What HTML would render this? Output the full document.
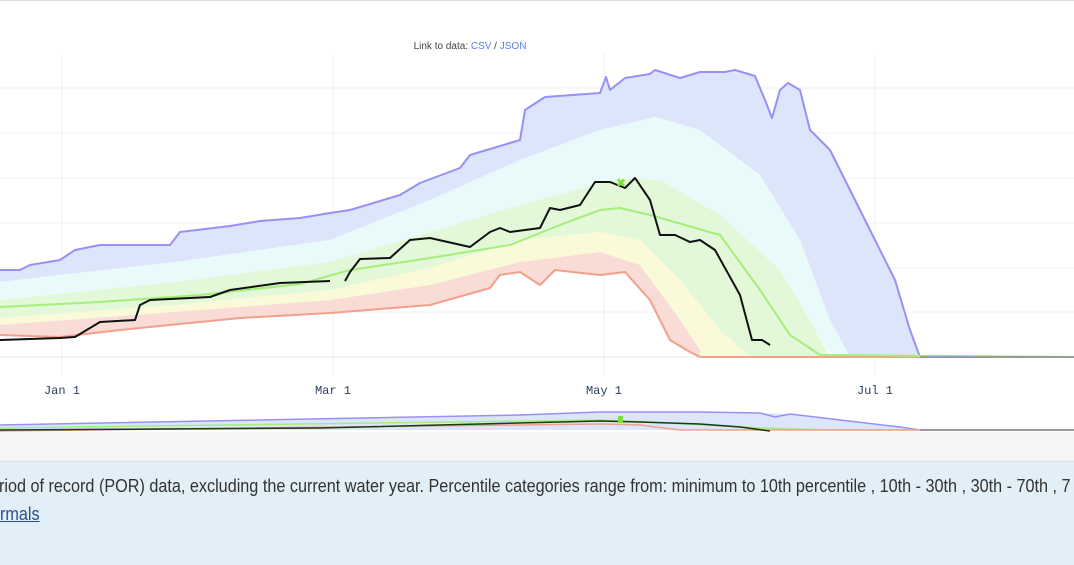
<!DOCTYPE html>
<html><head><meta charset="utf-8"><style>
body{margin:0;width:1074px;height:564px;overflow:hidden;background:#fff;font-family:"Liberation Sans",sans-serif;position:relative}
.top{position:absolute;left:0;top:0;width:1074px;height:1px;background:#ddd}
.gray{position:absolute;left:0;top:432px;width:1074px;height:29px;background:#f5f5f5}
.box{position:absolute;left:0;top:461px;width:1074px;height:103px;background:#e3eff6;border-top:1px solid #d4e3ec}
.t1{position:absolute;left:-1px;top:476px;font-size:18px;color:#333;white-space:nowrap;transform-origin:0 0;transform:scaleX(0.9)}
.t2{position:absolute;left:0;top:504px;font-size:18px;color:#2a4f8f;text-decoration:underline;transform-origin:0 0;transform:scaleX(0.9)}
</style></head><body>
<div class="top"></div>
<svg width="1074" height="432" style="position:absolute;left:0;top:0" font-family="Liberation Mono, monospace">
<g stroke="#eef0f8" stroke-width="1">
<line x1="0" y1="88" x2="1074" y2="88"/><line x1="0" y1="133" x2="1074" y2="133"/><line x1="0" y1="178" x2="1074" y2="178"/><line x1="0" y1="223" x2="1074" y2="223"/><line x1="0" y1="268" x2="1074" y2="268"/><line x1="0" y1="312" x2="1074" y2="312"/>
<line x1="62" y1="53" x2="62" y2="375"/><line x1="333" y1="53" x2="333" y2="375"/><line x1="604" y1="53" x2="604" y2="375"/><line x1="875" y1="53" x2="875" y2="375"/>
</g>
<line x1="0" y1="357" x2="1074" y2="357" stroke="#e6e8f0"/>
<text x="470" y="49" font-family="Liberation Sans,sans-serif" font-size="10" fill="#444" text-anchor="middle">Link to data: <tspan fill="#5b7de8">CSV</tspan> / <tspan fill="#5b7de8">JSON</tspan></text>
<polygon fill="#dde5fa" points="0,270 20,270 30,265 60,260 75,250 100,245 170,245 180,232 230,226 260,221 300,218 330,213 350,210 400,195 420,183 460,168 470,155 520,140 525,110 545,97 600,93 606,77 610,90 625,78 650,74 655,70 680,78 700,72 725,72 735,70 755,76 765,100 772,118 780,90 788,83 800,90 810,130 830,150 870,230 895,280 910,330 920,357 850,357 830,320 800,240 760,175 700,130 655,117 600,130 520,160 430,200 330,240 175,262 60,275 0,282"/>
<polygon fill="#e9fafa" points="0,282 60,275 175,262 330,240 430,200 520,160 600,130 655,117 700,130 760,175 800,240 830,320 850,357 830,355 810,320 780,270 720,215 660,180 620,178 520,205 430,232 330,262 175,282 0,300"/>
<polygon fill="#e2f8d8" points="0,300 175,282 330,262 430,232 520,205 620,178 660,180 720,215 780,270 810,320 830,357 750,357 720,330 680,280 640,240 600,232 520,240 430,268 330,290 175,305 0,318"/>
<polygon fill="#fafad8" points="0,318 175,305 330,290 430,268 520,240 600,232 640,240 680,280 720,330 750,357 700,357 680,320 640,265 600,252 520,262 430,285 330,300 175,312 0,325"/>
<polygon fill="#fadcd6" points="0,325 175,312 330,300 430,285 520,262 600,252 640,265 680,320 700,350 700,357 690,352 670,340 650,300 625,272 600,275 555,270 540,285 520,272 500,275 490,288 430,305 330,313 240,318 120,330 60,337 0,335"/>
<g fill="none" stroke-linejoin="round">
<polyline stroke="#9a8ff5" stroke-width="2" points="0,270 20,270 30,265 60,260 75,250 100,245 170,245 180,232 230,226 260,221 300,218 330,213 350,210 400,195 420,183 460,168 470,155 520,140 525,110 545,97 600,93 606,77 610,90 625,78 650,74 655,70 680,78 700,72 725,72 735,70 755,76 765,100 772,118 780,90 788,83 800,90 810,130 830,150 870,230 895,280 910,330 920,357 1074,357"/>
<polyline stroke="#f2a08c" stroke-width="2" points="0,335 60,337 120,330 240,318 330,313 430,305 490,288 500,275 520,272 540,285 555,270 600,275 625,272 650,300 670,340 690,352 700,357 1074,357"/>
<polyline stroke="#a5ee7a" stroke-width="2" points="0,307 100,302 200,295 300,284 350,270 430,258 510,245 560,225 600,210 620,208 650,215 720,235 760,290 790,335 820,355 1074,357"/>
<polyline stroke="#8a8aa0" stroke-width="1.5" points="920,357 1074,357"/>
<polyline stroke="#111" stroke-width="2" points="0,340 60,338 75,337 90,328 100,322 135,320 140,305 150,300 210,297 230,290 280,283 330,281"/>
<polyline stroke="#111" stroke-width="2" points="345,281 350,272 360,259 390,258 410,240 430,238 470,247 490,232 500,228 510,232 540,228 550,208 560,210 580,205 595,182 610,182 625,188 635,178 650,200 660,235 675,235 690,242 700,240 715,250 740,295 752,340 762,340 770,345"/>
</g>
<text x="621" y="187" fill="#7ee03c" font-size="12" text-anchor="middle" font-family="DejaVu Sans">✖</text>
<g font-size="12" fill="#2a3f5f" text-anchor="middle">
<text x="62" y="394">Jan 1</text><text x="333" y="394">Mar 1</text><text x="604" y="394">May 1</text><text x="875" y="394">Jul 1</text>
</g>
<polygon fill="#dde5fa" points="0,425 520,415 600,412 700,412 760,413 790,414 900,427 920,430 0,430"/>
<g fill="none">
<polyline stroke="#9a8ff5" stroke-width="1.5" points="0,425 520,415 600,412 700,412 760,413 775,417 790,414 900,427 920,430 1074,430"/>
<polyline stroke="#a5ee7a" stroke-width="1.5" points="0,428 600,420 650,422 760,428 830,430 1074,430"/>
<polyline stroke="#f2a08c" stroke-width="1.5" points="0,431 600,424 640,425 680,430 1074,430"/>
<polyline stroke="#1a3a10" stroke-width="1.5" points="0,430 320,428 600,421 640,422 700,424 740,427 770,431"/>
<polyline stroke="#8a8aa0" stroke-width="1.5" points="920,430 1074,430"/>
</g>
<rect x="618" y="416" width="5" height="7" fill="#7ee03c"/>
</svg>
<div class="gray"></div>
<div class="box"></div>
<div class="t1">riod of record (POR) data, excluding the current water year. Percentile categories range from: minimum to 10th percentile , 10th - 30th , 30th - 70th , 7</div>
<div class="t2">rmals</div>
</body></html>
